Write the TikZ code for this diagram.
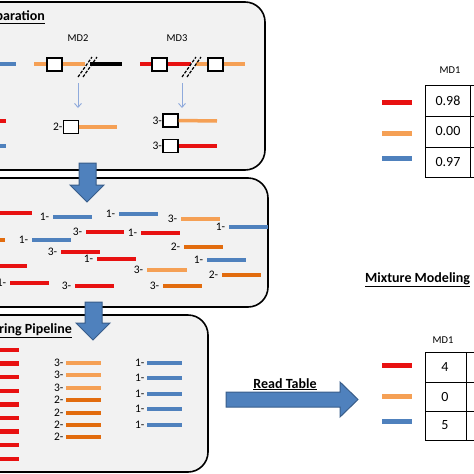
\documentclass[tikz,border=0pt]{standalone}
\usepackage{fontspec}
\setmainfont{Carlito}
\usetikzlibrary{arrows.meta}
\definecolor{panelgray}{RGB}{242,242,242}
\definecolor{fragred}{RGB}{232,17,17}
\definecolor{fragblue}{RGB}{79,129,189}
\definecolor{lightorange}{RGB}{245,160,85}
\definecolor{darkorange}{RGB}{226,108,14}
\definecolor{arrowedge}{RGB}{56,93,138}
\definecolor{pointerblue}{RGB}{143,170,220}
\tikzset{
  panel/.style={draw=black, line width=1.6pt, fill=panelgray, rounded corners=20pt},
  frag/.style={line width=4.5pt},
  seg/.style={line width=3.5pt},
  keybar/.style={line width=5pt},
  brk/.style={black, line width=1.2pt, dash pattern=on 3pt off 1.5pt},
  tagbox/.style={draw=black, fill=white, line width=1.3pt, minimum width=15pt, minimum height=13pt, inner sep=0pt},
  tag/.style={left, text=black, inner sep=1.5pt, font=\fontsize{11.5}{12}\selectfont},
  tighttag/.style={left, text=black, inner sep=0.3pt, font=\fontsize{11.5}{12}\selectfont},
  mdlabel/.style={font=\fontsize{10.5}{12}\selectfont},
  heading/.style={font=\bfseries\fontsize{14}{16}\selectfont, inner sep=0pt},
  cell/.style={font=\fontsize{14}{16}\selectfont},
  pointer/.style={pointerblue, line width=0.9pt, -{Straight Barb[length=4pt,width=7pt]}},
  blockarrow/.style={draw=arrowedge, line width=1pt, fill=fragblue},
  grid/.style={line width=0.9pt}
}
\begin{document}
\begin{tikzpicture}[x=1pt,y=-1pt]
\useasboundingbox (0,0) rectangle (474,474);
\clip (0,0) rectangle (474,474);
% panels
\draw[panel] (-40,2) rectangle (265,170);
\draw[panel] (-40,178) rectangle (268,307);
\draw[panel] (-40,315) rectangle (208,472);

% read separation
\node[heading, anchor=base east] at (45,20) {\underline{Read Separation}};
\draw[seg, fragblue] (-5,64) -- (16,64);
\draw[seg, fragred] (-5,121) -- (6,121);
\draw[seg, fragblue] (-5,146) -- (6,146);

\node[mdlabel] (md2) at (78,38) {MD2};
\draw[seg, lightorange] (34,64) -- (85,64);
\draw[seg, black] (90,64) -- (122,64);
\draw[brk] (78,77) -- (92,57);
\draw[brk] (83,77) -- (97,57);
\node[tagbox] (md2a) at (54.5,64.5) {};
\coordinate (cut2) at (78,83);
\coordinate (got2) at (78,108);
\draw[pointer] (cut2) -- (got2);
\node[tagbox, label={[tighttag]left:2-}] (md2b) at (71,127) {};
\draw[seg, lightorange] (md2b.east) -- (117,127);

\node[mdlabel] (md3) at (177,38) {MD3};
\draw[seg, fragred] (140,64) -- (191,64);
\draw[seg, lightorange] (196,64) -- (245,64);
\draw[brk] (182,77) -- (196,57);
\draw[brk] (187,77) -- (201,57);
\node[tagbox] (md3a) at (159.5,64.5) {};
\node[tagbox] (md3b) at (215.5,64.5) {};
\coordinate (cut3) at (182,83);
\coordinate (got3) at (182,108);
\draw[pointer] (cut3) -- (got3);
\node[tagbox, label={[tighttag]left:3-}] (md3c) at (170.5,120.5) {};
\draw[seg, lightorange] (md3c.east) -- (217,121);
\node[tagbox, label={[tighttag]left:3-}] (md3d) at (170.5,146) {};
\draw[seg, fragred] (md3d.east) -- (217,146);

% pooled reads
\draw[frag, fragred] (-5,213) -- (32,213);
\draw[frag, fragblue] (53,217) node[tag] {1-} -- ++(39,0);
\draw[frag, fragblue] (119,214) node[tag] {1-} -- ++(39,0);
\draw[frag, lightorange] (181,219) node[tag] {3-} -- ++(39,0);
\draw[frag, fragblue] (229,227) node[tag] {1-} -- ++(39,0);
\draw[frag, fragred] (86,232) node[tag] {3-} -- ++(38,0);
\draw[frag, fragred] (141,233) node[tag] {1-} -- ++(39,0);
\draw[frag, darkorange] (-5,240) -- (5,240);
\draw[frag, fragblue] (32,240) node[tag] {1-} -- ++(39,0);
\draw[frag, darkorange] (184,247) node[tag] {2-} -- ++(39,0);
\draw[frag, fragred] (61,252) node[tag] {3-} -- ++(39,0);
\draw[frag, fragred] (97,259) node[tag] {1-} -- ++(39,0);
\draw[frag, fragblue] (207,260) node[tag] {1-} -- ++(39,0);
\draw[frag, fragred] (-5,266) -- (27,266);
\draw[frag, lightorange] (147,270) node[tag] {3-} -- ++(40,0);
\draw[frag, darkorange] (222,275) node[tag] {2-} -- ++(39,0);
\draw[frag, fragred] (10,283) node[tag] {1-} -- ++(39,0);
\draw[frag, fragred] (75,286) node[tag] {3-} -- ++(39,0);
\draw[frag, darkorange] (163,286) node[tag] {3-} -- ++(39,0);

% filtering pipeline
\node[heading, anchor=base east] at (72,333) {\underline{Filtering Pipeline}};
\draw[frag, fragred] (-5,350) -- (19,350);
\draw[frag, fragred] (-5,363.6) -- (19,363.6);
\draw[frag, fragred] (-5,377.2) -- (19,377.2);
\draw[frag, fragred] (-5,390.8) -- (19,390.8);
\draw[frag, fragred] (-5,404.4) -- (19,404.4);
\draw[frag, fragred] (-5,418) -- (19,418);
\draw[frag, fragred] (-5,431.6) -- (19,431.6);
\draw[frag, fragred] (-5,445.2) -- (19,445.2);
\draw[frag, fragred] (-5,458.8) -- (19,458.8);

\draw[frag, lightorange] (66,363) node[tighttag] {3-} -- (101,363);
\draw[frag, lightorange] (66,375) node[tighttag] {3-} -- (101,375);
\draw[frag, lightorange] (66,388) node[tighttag] {3-} -- (101,388);
\draw[frag, darkorange] (66,400) node[tighttag] {2-} -- (101,400);
\draw[frag, darkorange] (66,413) node[tighttag] {2-} -- (101,413);
\draw[frag, darkorange] (66,425) node[tighttag] {2-} -- (101,425);
\draw[frag, darkorange] (66,437) node[tighttag] {2-} -- (101,437);

\draw[frag, fragblue] (147,363) node[tighttag] {1-} -- (182,363);
\draw[frag, fragblue] (147,378) node[tighttag] {1-} -- (182,378);
\draw[frag, fragblue] (147,394) node[tighttag] {1-} -- (182,394);
\draw[frag, fragblue] (147,409) node[tighttag] {1-} -- (182,409);
\draw[frag, fragblue] (147,425) node[tighttag] {1-} -- (182,425);

% block arrows
\draw[blockarrow] (79,163) -- (96,163) -- (96,185) -- (104,185) -- (87,202) -- (70,185) -- (79,185) -- cycle;
\draw[blockarrow] (85,302) -- (102,302) -- (102,323) -- (110,323) -- (93,340) -- (76,323) -- (85,323) -- cycle;
\draw[blockarrow] (226,392) -- (340,392) -- (340,382) -- (358,399.5) -- (340,417) -- (340,407) -- (226,407) -- cycle;
\node[heading, anchor=base] at (285,388) {\underline{Read Table}};
\node[heading, anchor=base west] at (365,282) {\underline{Mixture Modeling}};

% frequency table
\node[mdlabel] at (450,70) {MD1};
\draw[grid] (425,85) rectangle (490,177);
\draw[grid] (425,116) -- (490,116) (425,147) -- (490,147) (470,85) -- (470,177);
\node[cell] at (448,100.5) {0.98};
\node[cell] at (448,131.5) {0.00};
\node[cell] at (448,162) {0.97};
\draw[keybar, fragred] (382,102) -- (412,102);
\draw[keybar, lightorange] (382,133) -- (412,133);
\draw[keybar, fragblue] (382,158) -- (412,158);

% count table
\node[mdlabel] at (443,340) {MD1};
\draw[grid] (425,352) rectangle (490,440);
\draw[grid] (425,382) -- (490,382) (425,411) -- (490,411) (466,352) -- (466,440);
\node[cell] at (445,367) {4};
\node[cell] at (445,396.5) {0};
\node[cell] at (445,425.5) {5};
\draw[keybar, fragred] (382,365) -- (412,365);
\draw[keybar, lightorange] (382,396) -- (412,396);
\draw[keybar, fragblue] (382,421) -- (412,421);
\end{tikzpicture}
\end{document}
